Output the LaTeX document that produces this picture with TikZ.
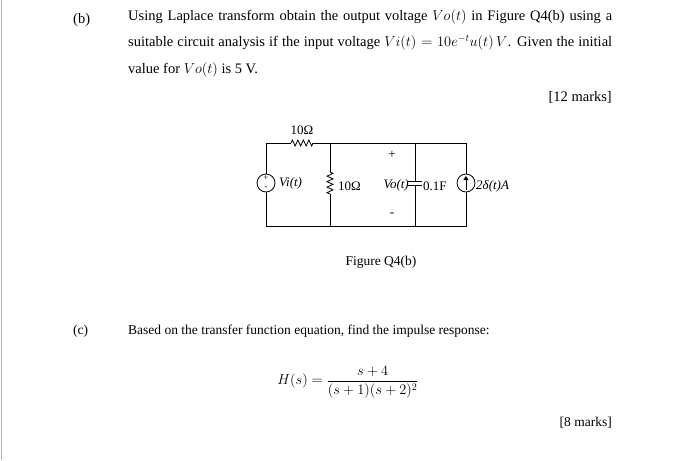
\documentclass[tikz,border=0pt]{standalone}
\usepackage{amsmath}
\usepackage{fontspec}
\setmainfont{Liberation Serif}
\usetikzlibrary{arrows.meta,decorations.pathmorphing}
\begin{document}
\begin{tikzpicture}[x=1pt,y=-1pt,
  txt/.style={anchor=base west,inner sep=0pt,font=\fontsize{14.5}{26}\selectfont},
  lbl/.style={inner sep=0pt,font=\fontsize{13}{15}\selectfont},
  wire/.style={line width=0.8pt},
  res/.style={wire,decorate,decoration={zigzag,segment length=5.5pt,amplitude=3pt}}]
\useasboundingbox (0,0) rectangle (700,460);
\draw[gray!60,line width=1pt] (1,0) -- (1,460);
\node[txt] (b) at (73,24) {(b)};
\node[txt,anchor=north west,text width=484pt,align=justify] (q) at (128,10)
 {\fontsize{14.5}{26}\selectfont Using Laplace transform obtain the output voltage $Vo(t)$ in Figure Q4(b) using a suitable circuit analysis if the input voltage $Vi(t)=10e^{-t}u(t)\,V$. Given the initial value for $Vo(t)$ is 5 V.};
\node[txt,anchor=base east] (m12) at (612,101) {[12 marks]};
% circuit
\coordinate (tl) at (266,143); \coordinate (bl) at (266,226);
\coordinate (tr) at (466,143); \coordinate (br) at (466,226);
\node[draw,wire,circle,minimum size=18pt,inner sep=0pt] (vs) at (266,183) {};
\node[font=\fontsize{9}{9}\selectfont,inner sep=0pt] (vp) at (266,178) {+};
\node[font=\fontsize{9}{9}\selectfont,inner sep=0pt] (vm) at (266,188) {-};
\draw[wire] (vs.north) -- (tl) -- (291,143);
\draw[res] (291,143) -- (313,143);
\draw[wire] (313,143) -- (tr) -- (466,174);
\draw[wire] (vs.south) -- (bl) -- (br) -- (466,192);
\draw[wire] (330,143) -- (330,172);
\draw[res] (330,172) -- (330,194);
\draw[wire] (330,194) -- (330,226);
\draw[wire] (415,143) -- (415,181) (408,181) -- (422,181) (408,185) -- (422,185) (415,185) -- (415,226);
\node[draw,wire,circle,minimum size=18pt,inner sep=0pt] (cs) at (466,183) {};
\draw[wire,-{Triangle[length=4pt,width=5pt]}] (466,190) -- (466,176);
\node[lbl] (r1) at (302,130) {10Ω};
\node[lbl,anchor=west] (vi) at (279,183) {\textit{Vi(t)}};
\node[lbl,anchor=west] (r2) at (338,186) {10Ω};
\node[lbl] (pl) at (392,155) {+};
\node[lbl] (mi) at (392,215) {-};
\node[lbl,anchor=east] (vo) at (409,185) {\textit{Vo(t)}};
\node[lbl,anchor=west] (cf) at (423,186) {0.1F};
\node[lbl,anchor=west] (is) at (476,186) {\textit{2δ(t)A}};
\node[lbl,font=\fontsize{13.5}{15}\selectfont] (fig) at (381,262) {Figure Q4(b)};
% (c)
\node[txt,font=\fontsize{13.5}{15}\selectfont] (c) at (73,334) {(c)};
\node[txt,font=\fontsize{13.5}{15}\selectfont] (ct) at (128,334) {Based on the transfer function equation, find the impulse response:};
\node[inner sep=0pt,font=\fontsize{14}{16}\selectfont] (h) at (348,382) {$H(s)=\dfrac{s+4}{(s+1)(s+2)^2}$};
\node[txt,anchor=base east,font=\fontsize{13.5}{15}\selectfont] (m8) at (612,426) {[8 marks]};
\end{tikzpicture}
\end{document}
